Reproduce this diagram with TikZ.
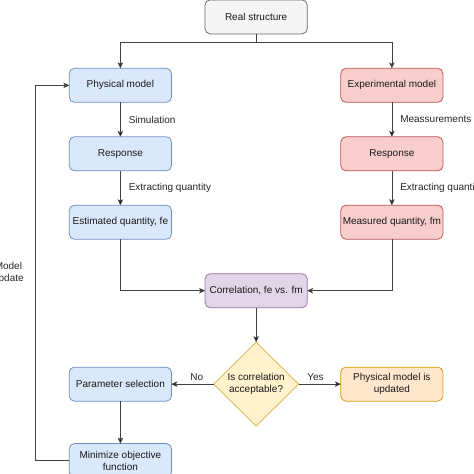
\documentclass[tikz,border=0pt]{standalone}
\usepackage{fontspec}
\setmainfont{Liberation Sans}
\usetikzlibrary{arrows.meta,calc,matrix,shapes.geometric}

\definecolor{simfill}{HTML}{DAE8FC}
\definecolor{simdraw}{HTML}{6C8EBF}
\definecolor{expfill}{HTML}{F8CECC}
\definecolor{expdraw}{HTML}{B85450}
\definecolor{corrfill}{HTML}{E1D5E7}
\definecolor{corrdraw}{HTML}{9673A6}
\definecolor{decfill}{HTML}{FFF2CC}
\definecolor{decdraw}{HTML}{D6B656}
\definecolor{donefill}{HTML}{FFE6CC}
\definecolor{donedraw}{HTML}{D79B00}
\definecolor{realfill}{HTML}{F5F5F5}
\definecolor{realdraw}{HTML}{666666}

\tikzset{
  box/.style={rectangle, rounded corners=5pt, line width=0.75pt, minimum width=102pt,
    minimum height=34pt, inner xsep=0pt, inner ysep=2pt, align=center, text=black!90},
  simbox/.style={box, fill=simfill, draw=simdraw},
  expbox/.style={box, fill=expfill, draw=expdraw},
  corrbox/.style={box, fill=corrfill, draw=corrdraw},
  donebox/.style={box, fill=donefill, draw=donedraw},
  realbox/.style={box, fill=realfill, draw=realdraw},
  decbox/.style={diamond, aspect=1, line width=0.75pt, fill=decfill, draw=decdraw,
    minimum width=85pt, minimum height=84pt, inner sep=0pt, align=center, text=black!90},
  wire/.style={line width=0.75pt, draw=black!75},
  flow/.style={wire, -{Stealth[length=6pt,width=5.5pt,inset=1.5pt]}},
  lbl/.style={right, inner sep=3pt, xshift=5pt, text=black!85},
}

\begin{document}
\begin{tikzpicture}[x=1pt,y=1pt]
  \useasboundingbox (0,0) rectangle (474,474);
  \matrix(m)[matrix anchor=north west, inner sep=0pt, outer sep=0pt, row sep=33.7pt, column sep=33pt,
    ampersand replacement=\&] at (69,474.5) {
                                          \& \node[realbox] (real) {Real structure};        \&                                                   \\
    \node[simbox] (phys) {Physical model};         \&                                                \& \node[expbox] (expm) {Experimental model};         \\
    \node[simbox] (resp1) {Response};              \&                                                \& \node[expbox] (resp2) {Response};                  \\
    \node[simbox] (est) {Estimated quantity, fe};  \&                                                \& \node[expbox] (meas) {Measured quantity, fm};      \\
                                          \& \node[corrbox] (corr) {Correlation, fe vs. fm}; \&                                                   \\
    \node[simbox] (param) {Parameter selection};   \& \node[decbox] (dec) {Is correlation\\acceptable?}; \& \node[donebox] (done) {Physical model is\\updated}; \\[-17pt]
    \node[simbox] (mini) {Minimize objective\\function}; \&                                          \&                                                   \\
  };
  \coordinate (split) at ($(real.south)+(0,-9)$);
  \coordinate (loop) at ($(mini.west)+(-34,0)$);
  \path[flow]
    (phys) edge node[lbl] {Simulation} (resp1)
    (resp1) edge node[lbl] {Extracting quantity} (est)
    (expm) edge node[lbl] {Meassurements} (resp2)
    (resp2) edge node[lbl] {Extracting quantity} (meas)
    (corr) edge (dec)
    (dec) edge node[above, pos=0.4, text=black!85] {No} (param)
    (dec) edge node[above, pos=0.4, text=black!85] {Yes} (done)
    (param) edge (mini);
  \draw[wire] (real) -- (split);
  \draw[flow] (split) -| (phys);
  \draw[flow] (split) -| (expm);
  \draw[flow] (est) |- (corr);
  \draw[flow] (meas) |- (corr);
  \draw[wire] (mini) -- (loop);
  \draw[flow] (loop) |- node[pos=0.25, left=8pt, align=center, text=black!85] {Model\\update} (phys);
\end{tikzpicture}
\end{document}
